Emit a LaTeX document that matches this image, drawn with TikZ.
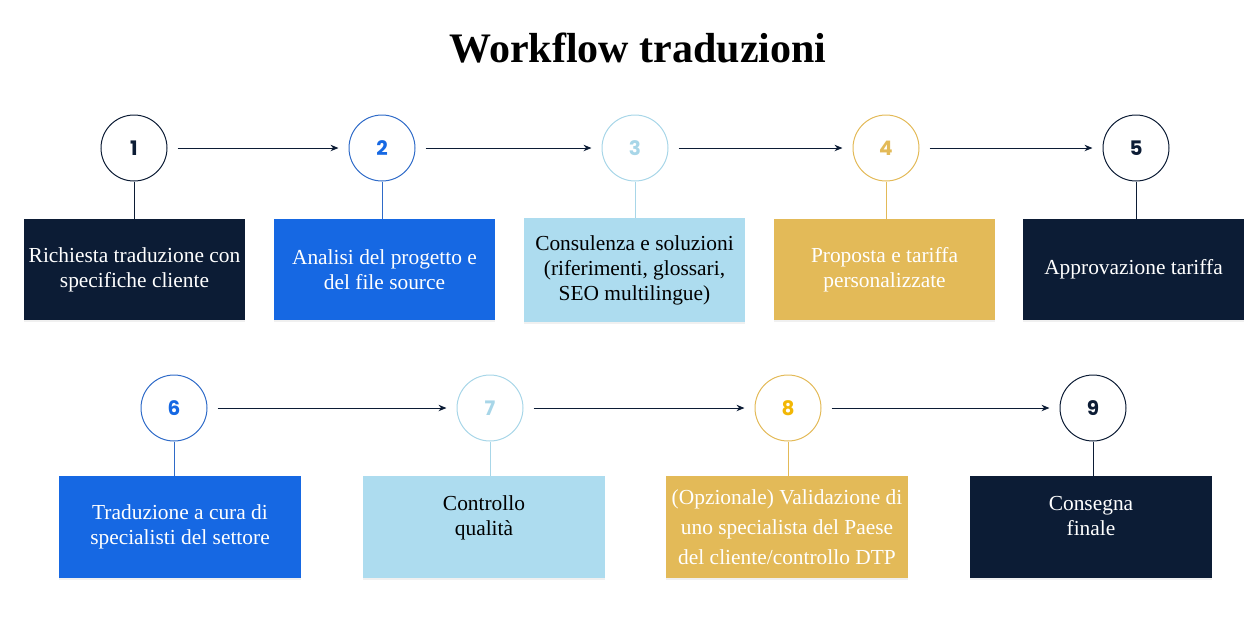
\documentclass[tikz,border=0pt]{standalone}
\usepackage{fontspec}
\setmainfont{Liberation Serif}
\newfontfamily\numfont{Poppins}
\usetikzlibrary{arrows.meta,shadows}
\definecolor{navy}{RGB}{12,28,53}
\definecolor{azure}{RGB}{22,104,227}
\definecolor{azureline}{RGB}{47,107,200}
\definecolor{sky}{RGB}{173,220,239}
\definecolor{skyline}{RGB}{168,214,232}
\definecolor{gold}{RGB}{227,186,88}
\definecolor{amber}{RGB}{242,183,5}

\begin{document}
\begin{tikzpicture}[x=0.5pt,y=-0.5pt,
  num/.style={draw=#1,circle,line width=0.5pt,minimum size=33pt,inner sep=0pt,
    font=\numfont\bfseries\fontsize{10}{12}\selectfont},
  stepbox/.style={fill=#1,minimum width=110.5pt,minimum height=50.5pt,align=center,
    inner sep=0pt,font=\fontsize{10.7}{12.5}\selectfont,
    drop shadow={opacity=0.12,shadow xshift=0pt,shadow yshift=-1pt}},
  widebox/.style={stepbox=#1,minimum width=121pt,minimum height=51pt},
  flow/.style={draw=navy,line width=0.5pt,-{Stealth[length=4pt,width=3.2pt]},
    shorten <=5pt,shorten >=5pt},
  stem/.style={draw=#1,line width=0.5pt}]
  \useasboundingbox (0,0) rectangle (1255,618);

  %title
  \node[font=\bfseries\fontsize{21}{25}\selectfont,anchor=base] (title) at (638,62) {Workflow traduzioni};

  %first row: numbers
  \node[num=navy,text=navy] (n1) at (134,148) {1};
  \node[num=azureline,text=azure] (n2) at (382,148) {2};
  \node[num=skyline,text=skyline] (n3) at (635,148) {3};
  \node[num=gold,text=gold] (n4) at (886,148) {4};
  \node[num=navy,text=navy] (n5) at (1136,148) {5};

  %first row: steps
  \node[stepbox=navy,text=white] (b1) at (134.5,269.5) {Richiesta traduzione con\\specifiche cliente};
  \node[stepbox=azure,text=white] (b2) at (384.5,269.5) {Analisi del progetto e\\del file source};
  \node[stepbox=sky,text=black,minimum height=52pt] (b3) at (634.5,270) {Consulenza e soluzioni\\(riferimenti, glossari,\\SEO multilingue)};
  \node[stepbox=gold,text=white] (b4) at (884.5,269.5) {Proposta e tariffa\\personalizzate};
  \node[stepbox=navy,text=white] (b5) at (1133.5,269.5) {Approvazione tariffa};

  %second row: numbers
  \node[num=azureline,text=azure] (n6) at (174,408) {6};
  \node[num=skyline,text=skyline] (n7) at (490,408) {7};
  \node[num=gold,text=amber] (n8) at (788,408) {8};
  \node[num=navy,text=navy] (n9) at (1093,408) {9};

  %second row: steps
  \node[widebox=azure,text=white] (b6) at (180,527) {Traduzione a cura di\\specialisti del settore};
  \node[widebox=sky,text=black,text depth=11pt] (b7) at (484,527) {Controllo\\qualità};
  \node[widebox=gold,text=white] (b8) at (787,527) {(Opzionale) Validazione di\\[2.5pt]uno specialista del Paese\\[2.5pt]del cliente/controllo DTP};
  \node[widebox=navy,text=white,text depth=11pt] (b9) at (1091,527) {Consegna\\finale};

  %stems
  \draw[stem=navy] (n1.south) -- (n1.south |- b1.north);
  \draw[stem=azureline] (n2.south) -- (n2.south |- b2.north);
  \draw[stem=skyline] (n3.south) -- (n3.south |- b3.north);
  \draw[stem=gold] (n4.south) -- (n4.south |- b4.north);
  \draw[stem=navy] (n5.south) -- (n5.south |- b5.north);
  \draw[stem=azureline] (n6.south) -- (n6.south |- b6.north);
  \draw[stem=skyline] (n7.south) -- (n7.south |- b7.north);
  \draw[stem=gold] (n8.south) -- (n8.south |- b8.north);
  \draw[stem=navy] (n9.south) -- (n9.south |- b9.north);

  %arrows
  \draw[flow] (n1) -- (n2);
  \draw[flow] (n2) -- (n3);
  \draw[flow] (n3) -- (n4);
  \draw[flow] (n4) -- (n5);
  \draw[flow] (n6) -- (n7);
  \draw[flow] (n7) -- (n8);
  \draw[flow] (n8) -- (n9);
\end{tikzpicture}
\end{document}
